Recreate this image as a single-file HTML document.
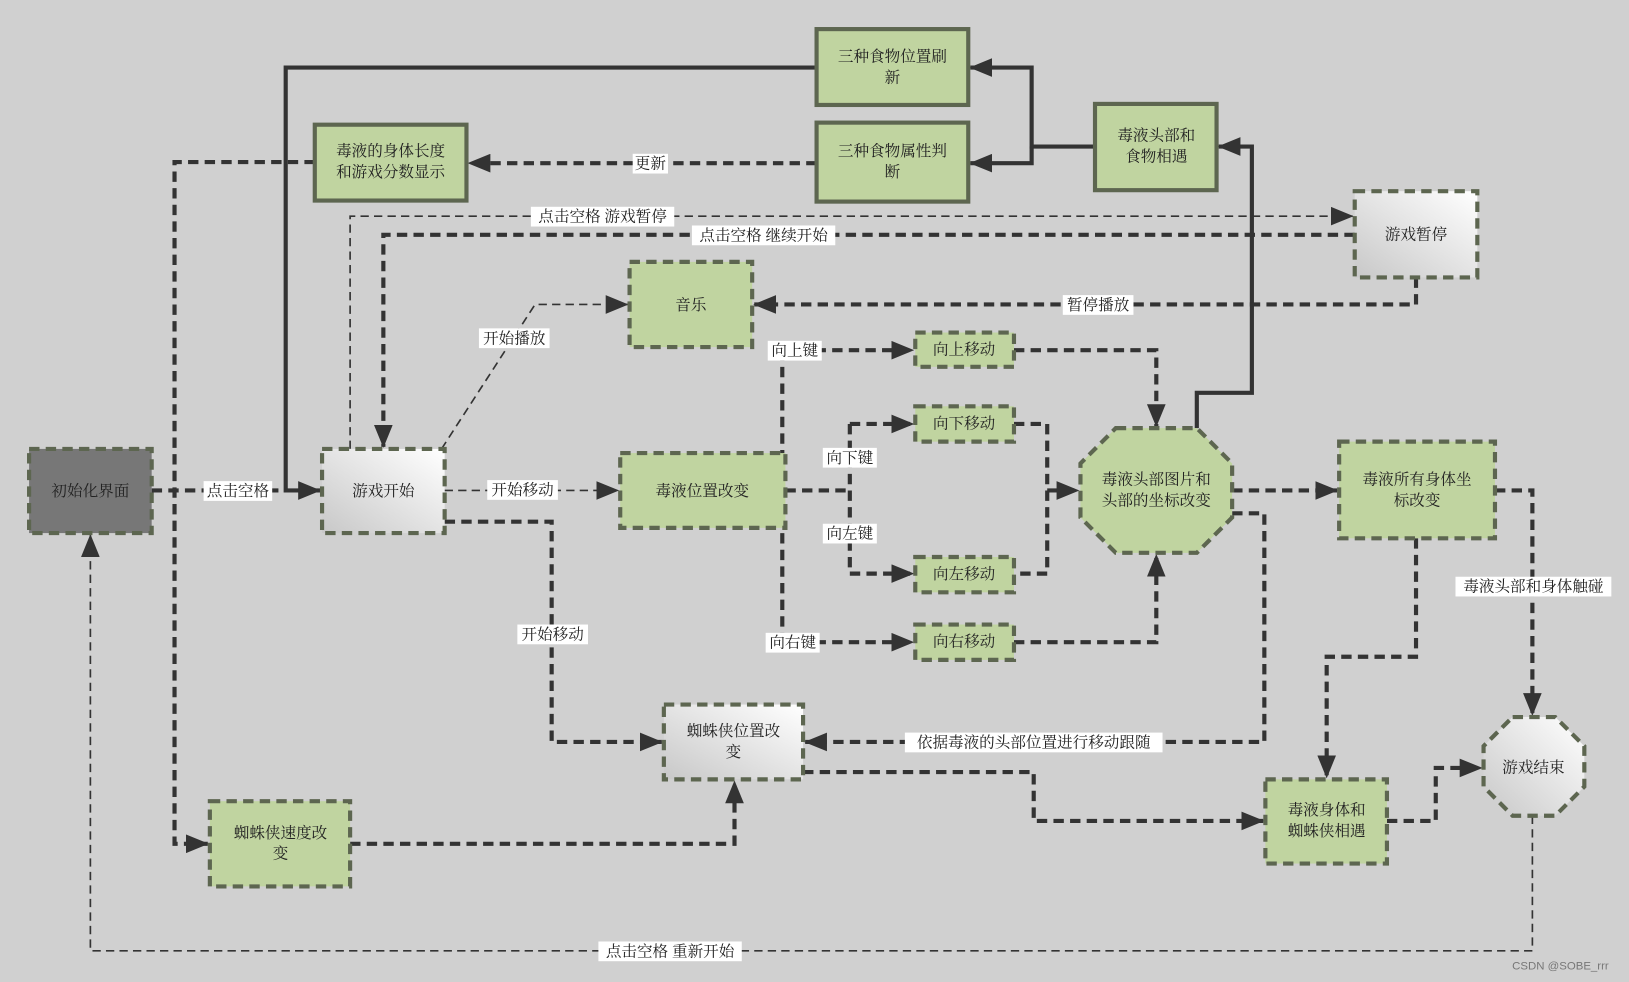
<!DOCTYPE html>
<html><head><meta charset="utf-8"><style>
html,body{margin:0;padding:0;background:#d0d0d0;}
svg{display:block;}
text{font-family:"Liberation Serif","Noto Serif CJK SC","Noto Sans CJK SC",serif;font-size:15px;fill:#222;text-anchor:middle;dominant-baseline:central;}
.tk{stroke:#333;stroke-width:4;fill:none;stroke-dasharray:10 6;}
.tn{stroke:#333;stroke-width:1.6;fill:none;stroke-dasharray:8 5;}
.sd{stroke:#333;stroke-width:4;fill:none;}
.g{fill:#c0d4a0;stroke:#5d6650;stroke-width:4;stroke-dasharray:10 6;}
.gs{fill:#c0d4a0;stroke:#5d6650;stroke-width:4;}
.w{fill:url(#wg);stroke:#5d6650;stroke-width:4;stroke-dasharray:10 6;}
.lb{fill:#fff;}
</style></head><body>
<svg width="1629" height="982" viewBox="0 0 1568 945" preserveAspectRatio="none" xmlns="http://www.w3.org/2000/svg">
<defs>
<linearGradient id="wg" x1="0" y1="1" x2="1" y2="0"><stop offset="0" stop-color="#c8c8c8"/><stop offset="1" stop-color="#ffffff"/></linearGradient>
<marker id="a" markerWidth="8" markerHeight="8" refX="7" refY="4" orient="auto" markerUnits="userSpaceOnUse" viewBox="0 0 8 8"><path d="M0,0 L8,4 L0,8z" fill="#333"/></marker>
<marker id="A" markerWidth="22" markerHeight="18" refX="21" refY="9" orient="auto" markerUnits="userSpaceOnUse"><path d="M0,0 L22,9 L0,18z" fill="#333"/></marker>
</defs>
<rect width="1568" height="945" fill="#d0d0d0"/>

<!-- edges -->
<path class="sd" d="M786,65 H275 V472 H308" marker-end="url(#A)"/>
<path class="tk" d="M146,472 H275"/>
<path class="tk" d="M303,156 H168 V812 H200" marker-end="url(#A)"/>
<path class="tk" d="M786,157 H451" marker-end="url(#A)"/>
<path class="sd" d="M1054,141 H993 V65 H934" marker-end="url(#A)"/>
<path class="sd" d="M993,141 V157 H934" marker-end="url(#A)"/>
<path class="sd" d="M1152,412 V378 H1205 V141 H1173" marker-end="url(#A)"/>
<path class="tn" d="M337,432 V208 H1302" marker-end="url(#A)"/>
<path class="tk" d="M1304,226 H369 V430" marker-end="url(#A)"/>
<path class="tk" d="M1363,267 V293 H726" marker-end="url(#A)"/>
<path class="tn" d="M425,432 L515,293 H604" marker-end="url(#A)"/>
<path class="tn" d="M428,472 H595" marker-end="url(#A)"/>
<path class="tk" d="M428,502 H531 V714 H637" marker-end="url(#A)"/>
<path class="tk" d="M756,472 H818"/>
<path class="tk" d="M753,337 V618"/>
<path class="tk" d="M753,337 H879" marker-end="url(#A)"/>
<path class="tk" d="M753,618 H879" marker-end="url(#A)"/>
<path class="tk" d="M818,408 V552"/>
<path class="tk" d="M818,408 H879" marker-end="url(#A)"/>
<path class="tk" d="M818,552 H879" marker-end="url(#A)"/>
<path class="tk" d="M976,337 H1113 V410" marker-end="url(#A)"/>
<path class="tk" d="M976,408 H1008 V552 H976"/>
<path class="tk" d="M1008,472 H1038" marker-end="url(#A)"/>
<path class="tk" d="M976,618 H1113 V534" marker-end="url(#A)"/>
<path class="tk" d="M1186,472 H1287" marker-end="url(#A)"/>
<path class="tk" d="M1186,494 H1217 V714 H775" marker-end="url(#A)"/>
<path class="tk" d="M1439,472 H1475 V688" marker-end="url(#A)"/>
<path class="tk" d="M1363,518 V632 H1277 V748" marker-end="url(#A)"/>
<path class="tk" d="M773,743 H995 V790 H1216" marker-end="url(#A)"/>
<path class="tk" d="M337,812 H707 V752" marker-end="url(#A)"/>
<path class="tk" d="M1335,790 H1382 V739 H1426" marker-end="url(#A)"/>
<path class="tn" d="M1475,785 V915 H87 V515" marker-end="url(#A)"/>

<!-- nodes -->
<rect x="28" y="432" width="118" height="81" fill="#777" stroke="#5d6650" stroke-width="4" stroke-dasharray="10 6"/>
<text x="87" y="473">初始化界面</text>
<rect class="w" x="310" y="432" width="118" height="81"/><text x="369" y="473">游戏开始</text>
<rect class="g" x="606" y="252" width="118" height="82"/><text x="665" y="294">音乐</text>
<rect class="g" x="597" y="436" width="159" height="72"/><text x="676" y="473">毒液位置改变</text>
<rect class="w" x="639" y="678" width="134" height="72"/><text x="706" y="704">蜘蛛侠位置改</text><text x="706" y="724">变</text>
<rect class="g" x="202" y="771" width="135" height="82"/><text x="270" y="802">蜘蛛侠速度改</text><text x="270" y="822">变</text>
<rect class="gs" x="303" y="120" width="146" height="73"/><text x="376" y="146">毒液的身体长度</text><text x="376" y="166">和游戏分数显示</text>
<rect class="gs" x="786" y="28" width="146" height="73"/><text x="859" y="55">三种食物位置刷</text><text x="859" y="75">新</text>
<rect class="gs" x="786" y="118" width="146" height="76"/><text x="859" y="146">三种食物属性判</text><text x="859" y="166">断</text>
<rect class="gs" x="1054" y="100" width="117" height="83"/><text x="1113" y="131">毒液头部和</text><text x="1113" y="151">食物相遇</text>
<rect class="w" x="1304" y="184" width="118" height="83"/><text x="1363" y="226">游戏暂停</text>
<rect class="g" x="881" y="320" width="95" height="33"/><text x="928" y="337">向上移动</text>
<rect class="g" x="881" y="391" width="95" height="34"/><text x="928" y="408">向下移动</text>
<rect class="g" x="881" y="536" width="95" height="34"/><text x="928" y="553">向左移动</text>
<rect class="g" x="881" y="601" width="95" height="34"/><text x="928" y="618">向右移动</text>
<polygon class="g" points="1074,412 1152,412 1186,446 1186,498 1152,532 1074,532 1040,498 1040,446"/>
<text x="1113" y="462">毒液头部图片和</text><text x="1113" y="482">头部的坐标改变</text>
<rect class="g" x="1289" y="425" width="150" height="93"/><text x="1364" y="462">毒液所有身体坐</text><text x="1364" y="482">标改变</text>
<rect class="g" x="1218" y="750" width="117" height="81"/><text x="1277" y="780">毒液身体和</text><text x="1277" y="800">蜘蛛侠相遇</text>
<polygon class="w" points="1456,690 1497,690 1525,718 1525,757 1497,785 1456,785 1428,757 1428,718"/>
<text x="1476" y="739">游戏结束</text>

<!-- labels -->
<g>
<rect class="lb" x="196" y="463" width="66" height="19"/><text x="229" y="473">点击空格</text>
<rect class="lb" x="609" y="148" width="34" height="19"/><text x="626" y="158">更新</text>
<rect class="lb" x="511" y="199" width="138" height="19"/><text x="580" y="209">点击空格 游戏暂停</text>
<rect class="lb" x="666" y="217" width="138" height="19"/><text x="735" y="227">点击空格 继续开始</text>
<rect class="lb" x="1023" y="284" width="68" height="19"/><text x="1057" y="294">暂停播放</text>
<rect class="lb" x="461" y="316" width="68" height="19"/><text x="495" y="326">开始播放</text>
<rect class="lb" x="469" y="462" width="68" height="19"/><text x="503" y="472">开始移动</text>
<rect class="lb" x="498" y="601" width="68" height="19"/><text x="532" y="611">开始移动</text>
<rect class="lb" x="739" y="328" width="52" height="19"/><text x="765" y="338">向上键</text>
<rect class="lb" x="792" y="431" width="52" height="19"/><text x="818" y="441">向下键</text>
<rect class="lb" x="792" y="504" width="52" height="19"/><text x="818" y="514">向左键</text>
<rect class="lb" x="737" y="609" width="52" height="19"/><text x="763" y="619">向右键</text>
<rect class="lb" x="871" y="705" width="248" height="19"/><text x="995" y="715">依据毒液的头部位置进行移动跟随</text>
<rect class="lb" x="1401" y="555" width="150" height="19"/><text x="1476" y="565">毒液头部和身体触碰</text>
<rect class="lb" x="576" y="906" width="138" height="19"/><text x="645" y="916">点击空格 重新开始</text>
</g>
<text x="1502" y="930" style="font-size:11px;fill:#777;font-family:'Liberation Sans',sans-serif">CSDN @SOBE_rrr</text>
</svg>
</body></html>
